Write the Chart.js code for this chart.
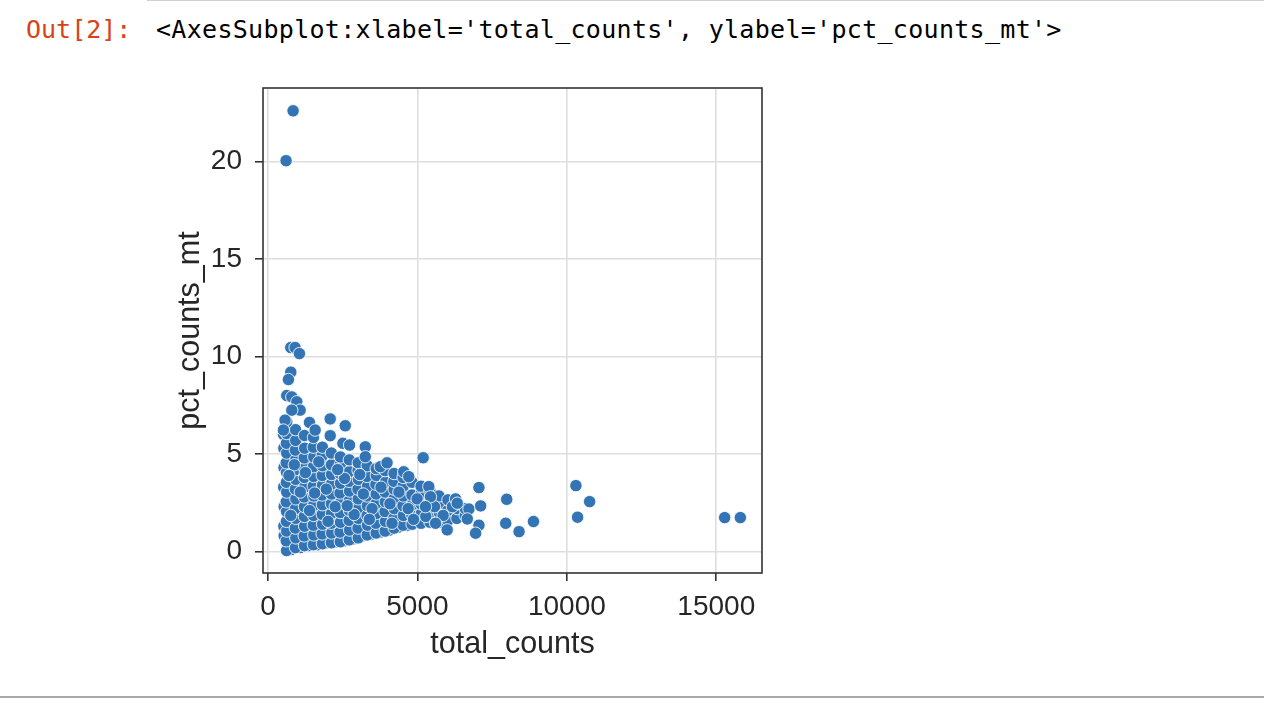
<!DOCTYPE html>
<html>
<head>
<meta charset="utf-8">
<script src="https://cdn.jsdelivr.net/npm/chart.js@4.4.1/dist/chart.umd.min.js"></script>
<style>
  html, body { margin: 0; padding: 0; background: #fff; }
  body { width: 1264px; height: 710px; position: relative; overflow: hidden; }
  .prompt { position: absolute; left: 26px; top: 15px; font: 25px/30px "DejaVu Sans Mono", monospace; color: #d84315; }
  .repr { position: absolute; left: 156px; top: 15px; font: 25px/30px "DejaVu Sans Mono", monospace; letter-spacing: 0.3px; color: #000; white-space: pre; }
  .rule-top { position: absolute; left: 147px; right: 0; top: 0; height: 1px; background: #d0d0d0; }
  .rule-bottom { position: absolute; left: 0; right: 0; top: 696px; height: 2px; background: #a9a9a9; }
  #wrap { position: absolute; left: 0; top: 0; width: 1264px; height: 710px; }
</style>
</head>
<body>
<div class="rule-top"></div>
<div class="prompt">Out[2]:</div>
<div class="repr">&lt;AxesSubplot:xlabel='total_counts', ylabel='pct_counts_mt'&gt;</div>
<div id="wrap"><canvas id="chart"></canvas></div>
<div class="rule-bottom"></div>
<script>
// axis ticks / ranges
const xTicks = [0, 5000, 10000, 15000];
const yTicks = [0, 5, 10, 15, 20];
const xRange = [-168, 16530];
const yRange = [-1.1, 23.77];
const xLabel = 'total_counts';
const yLabel = 'pct_counts_mt';

// cells that sit apart from the main cloud: [total_counts, pct_counts_mt]
const outliers = [
  [839, 22.6], [604, 20.04], [762, 10.46], [906, 10.46], [1051, 10.15],
  [762, 9.2], [682, 8.82], [627, 8.0], [795, 7.93], [963, 7.68],
  [1074, 7.25], [795, 7.25], [627, 6.65], [570, 6.74], [515, 6.23],
  [2081, 6.8], [2584, 6.45], [2081, 5.94], [1387, 6.62], [1577, 6.23],
  [2506, 5.55], [2729, 5.46], [3255, 5.37], [3255, 4.86], [5191, 4.81],
  [3759, 4.35], [3983, 4.55], [4541, 4.09], [4709, 3.84], [5380, 3.33],
  [5437, 2.81], [5269, 2.3], [5605, 1.45], [5996, 1.11], [6276, 2.7],
  [6332, 2.48], [6723, 2.18], [6668, 1.67], [7058, 3.28], [7115, 2.34],
  [7058, 1.35], [6947, 0.94], [7987, 2.68], [7954, 1.45], [8400, 1.02],
  [8883, 1.54], [10303, 3.38], [10762, 2.56], [10359, 1.76],
  [15281, 1.74], [15806, 1.74]
];

// the dense cloud, read column by column
const cloud = [
  [620, 0.05], [610, 0.55], [625, 1.05], [615, 1.55], [620, 2.05], [610, 2.55], [625, 3.05],
  [615, 3.55], [620, 4.05], [610, 4.55], [625, 5.05], [615, 5.55], [620, 6.05], [610, 6.5],
  [920, 0.2], [930, 0.7], [915, 1.2], [925, 1.7], [920, 2.2], [930, 2.7], [915, 3.2],
  [925, 3.7], [920, 4.2], [930, 4.7], [915, 5.2], [925, 5.7], [920, 6.25],
  [1220, 0.3], [1210, 0.8], [1225, 1.3], [1215, 1.8], [1220, 2.3], [1210, 2.8],
  [1225, 3.3], [1215, 3.8], [1220, 4.3], [1210, 4.8], [1225, 5.3], [1220, 5.95],
  [1520, 0.35], [1530, 0.85], [1515, 1.35], [1525, 1.85], [1520, 2.35], [1530, 2.85],
  [1515, 3.35], [1525, 3.85], [1520, 4.35], [1530, 4.85], [1515, 5.35], [1520, 5.85],
  [1820, 0.4], [1810, 0.9], [1825, 1.4], [1815, 1.9], [1820, 2.4], [1810, 2.9],
  [1825, 3.4], [1815, 3.9], [1820, 4.4], [1810, 4.9], [1820, 5.35],
  [2120, 0.45], [2130, 0.95], [2115, 1.45], [2125, 1.95], [2120, 2.45], [2130, 2.95],
  [2115, 3.45], [2125, 3.95], [2120, 4.45], [2120, 5.05],
  [2420, 0.5], [2410, 1.0], [2425, 1.5], [2415, 2.0], [2420, 2.5], [2410, 3.0],
  [2425, 3.5], [2415, 4.0], [2420, 4.45], [2420, 4.85],
  [2720, 0.6], [2730, 1.1], [2715, 1.6], [2725, 2.1], [2720, 2.6], [2730, 3.1],
  [2715, 3.6], [2725, 4.1], [2720, 4.7],
  [3020, 0.7], [3010, 1.2], [3025, 1.7], [3015, 2.2], [3020, 2.7], [3010, 3.2],
  [3025, 3.7], [3015, 4.15], [3020, 4.55],
  [3320, 0.85], [3330, 1.35], [3315, 1.85], [3325, 2.35], [3320, 2.85], [3330, 3.35],
  [3315, 3.85], [3320, 4.4],
  [3620, 0.95], [3610, 1.45], [3625, 1.95], [3615, 2.45], [3620, 2.95], [3610, 3.45],
  [3625, 3.9], [3620, 4.25],
  [3920, 1.05], [3930, 1.55], [3915, 2.05], [3925, 2.55], [3920, 3.05], [3930, 3.55], [3920, 4.15],
  [4220, 1.2], [4210, 1.7], [4225, 2.2], [4215, 2.7], [4220, 3.2], [4210, 3.6], [4220, 4.0],
  [4520, 1.35], [4530, 1.85], [4515, 2.35], [4525, 2.85], [4520, 3.35], [4520, 3.8],
  [4820, 1.4], [4810, 1.9], [4825, 2.4], [4815, 2.9], [4820, 3.55],
  [5120, 1.45], [5130, 1.95], [5115, 2.45], [5125, 2.95], [5120, 3.35],
  [5420, 1.5], [5410, 2.0], [5425, 2.5], [5420, 3.1],
  [5720, 1.5], [5730, 2.0], [5715, 2.45], [5720, 2.85],
  [6020, 1.6], [6010, 2.1], [6020, 2.65],
  [6320, 1.7], [6330, 2.2], [6320, 2.45],
  [6600, 1.85], [6600, 2.2]
];

// extra cells crowding the lower band and the left edge of the cloud
const crowded = [
  [770, 0.1], [1070, 0.2], [1370, 0.3], [1670, 0.35], [1970, 0.45], [2270, 0.5],
  [2570, 0.55], [2870, 0.65], [3170, 0.8], [3470, 0.9], [3770, 1.0], [4070, 1.1],
  [4370, 1.25], [4670, 1.35],
  [770, 0.6], [1070, 0.7], [1370, 0.8], [1670, 0.85], [1970, 0.9], [2270, 1.0],
  [2570, 1.05], [2870, 1.15], [3170, 1.3], [3470, 1.4],
  [540, 0.8], [530, 1.3], [540, 2.3], [525, 3.3], [535, 4.3], [530, 5.3], [520, 6.0]
];

// cells drawn last, scattered over the cloud interior
const topLayer = [
  [760, 1.85], [1080, 3.05], [1390, 2.1], [1700, 4.6], [880, 4.45], [1950, 3.2],
  [2250, 2.3], [2560, 3.75], [2880, 1.9], [3190, 2.95], [3480, 2.2], [3780, 3.3],
  [4080, 2.45], [4380, 3.05], [4690, 2.2], [4990, 2.7], [5280, 1.8], [5570, 2.3],
  [1250, 4.05], [2010, 1.55], [2650, 2.35], [3390, 1.65], [4150, 1.45], [4870, 1.65],
  [700, 3.9], [1560, 3.0], [2330, 4.2], [3070, 3.95], [5860, 1.85], [6170, 2.3]
];

const ink = '#262626';
const dotBlue = '#3274b4';
const font = '"Liberation Sans", Arial, sans-serif';

const framePlugin = {
  id: 'frame',
  afterDatasetsDraw(chart) {
    const a = chart.chartArea;
    const ctx = chart.ctx;
    ctx.save();
    ctx.strokeStyle = '#333333';
    ctx.lineWidth = 1.6;
    ctx.strokeRect(a.left, a.top, a.right - a.left, a.bottom - a.top);
    ctx.restore();
  }
};

const points = crowded.concat(cloud, topLayer, outliers).map(([x, y]) => ({ x, y }));

new Chart(document.getElementById('chart'), {
  type: 'scatter',
  data: {
    datasets: [{
      data: points,
      backgroundColor: dotBlue,
      borderColor: 'rgba(255,255,255,0.85)',
      borderWidth: 1,
      pointRadius: 6.2,
      pointHoverRadius: 6.2
    }]
  },
  options: {
    responsive: true,
    maintainAspectRatio: false,
    animation: false,
    devicePixelRatio: 1,
    layout: { padding: { left: 172, top: 88, right: 502, bottom: 47 } },
    plugins: {
      legend: { display: false },
      tooltip: { enabled: false }
    },
    scales: {
      x: {
        type: 'linear',
        min: xRange[0],
        max: xRange[1],
        afterBuildTicks: s => { s.ticks = xTicks.map(v => ({ value: v })); },
        afterFit: s => { s.height = 90; },
        border: { display: false },
        grid: { color: '#dedede', lineWidth: 1.6, tickColor: '#333333', tickLength: 8, tickWidth: 1.6 },
        ticks: {
          color: ink, padding: 9, maxRotation: 0,
          font: { family: font, size: 28 },
          callback: v => String(v)
        },
        title: {
          display: true, text: xLabel, color: ink, padding: 0,
          font: { family: font, size: 30.5 }
        }
      },
      y: {
        type: 'linear',
        min: yRange[0],
        max: yRange[1],
        afterBuildTicks: s => { s.ticks = yTicks.map(v => ({ value: v })); },
        afterFit: s => { s.width = 91; },
        border: { display: false },
        grid: { color: '#dedede', lineWidth: 1.6, tickColor: '#333333', tickLength: 8, tickWidth: 1.6 },
        ticks: {
          color: ink, padding: 13,
          font: { family: font, size: 28 },
          callback: v => String(v)
        },
        title: {
          display: true, text: yLabel, color: ink, padding: 0,
          font: { family: font, size: 30.5 }
        }
      }
    }
  },
  plugins: [framePlugin]
});
</script>
</body>
</html>
